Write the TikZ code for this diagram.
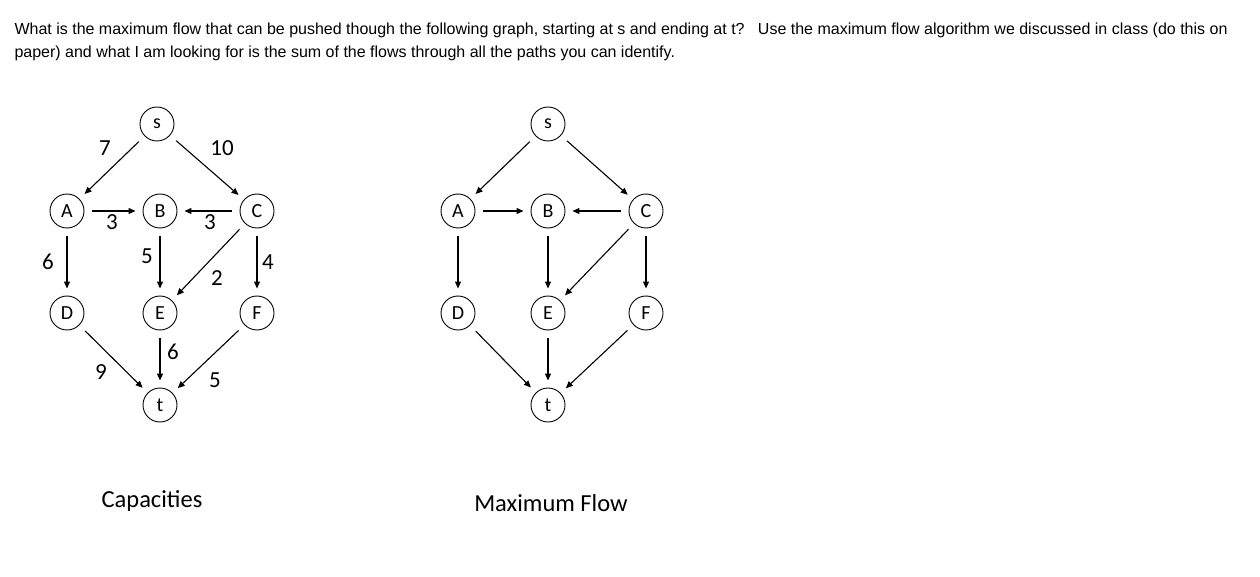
\documentclass[tikz,border=0pt]{standalone}
\usepackage{fontspec}
\setmainfont{Carlito}
\newfontfamily\hdr{Liberation Sans}
\usetikzlibrary{arrows.meta}
\begin{document}
\begin{tikzpicture}[x=1pt,y=-1pt,
  nd/.style={circle,draw,line width=0.9pt,minimum size=34pt,inner sep=0pt,font=\fontsize{20}{20}\selectfont},
  ed/.style={line width=1.1pt,-{Triangle[length=7pt,width=6pt]},shorten <=8pt,shorten >=7pt},
  lb/.style={font=\fontsize{23}{23}\selectfont},
  captxt/.style={font=\fontsize{24.5}{24.5}\selectfont}]
\useasboundingbox (0,0) rectangle (1260,577);
\node[anchor=west,font=\hdr\fontsize{16}{18}\selectfont] (h1) at (11,30) {What is the maximum flow that can be pushed though the following graph, starting at s and ending at t?\ \ \ Use the maximum flow algorithm we discussed in class (do this on};
\node[anchor=west,font=\hdr\fontsize{16}{18}\selectfont] (h2) at (11,53) {paper) and what I am looking for is the sum of the flows through all the paths you can identify.};
% left
\node[nd] (ls) at (157,124) {s};
\node[nd] (lA) at (67,211) {A};
\node[nd] (lB) at (160,211) {B};
\node[nd] (lC) at (257,211) {C};
\node[nd] (lD) at (67,313) {D};
\node[nd] (lE) at (160,313) {E};
\node[nd] (lF) at (257,313) {F};
\node[nd] (lt) at (160,405) {t};
\draw[ed] (ls) -- (lA);
\draw[ed] (ls) -- (lC);
\draw[ed] (lA) -- (lB);
\draw[ed] (lC) -- (lB);
\draw[ed] (lA) -- (lD);
\draw[ed] (lB) -- (lE);
\draw[ed] (lC) -- (lE);
\draw[ed] (lC) -- (lF);
\draw[ed] (lD) -- (lt);
\draw[ed] (lE) -- (lt);
\draw[ed] (lF) -- (lt);
\node[lb] (l1) at (105,148) {7};
\node[lb] (l2) at (222,148) {10};
\node[lb] (l3) at (112,222) {3};
\node[lb] (l4) at (210,222) {3};
\node[lb] (l5) at (48,262) {6};
\node[lb] (l6) at (147,256) {5};
\node[lb] (l7) at (217,278) {2};
\node[lb] (l8) at (268,262) {4};
\node[lb] (l9) at (101,372) {9};
\node[lb] (l10) at (173,352) {6};
\node[lb] (l11) at (215,380) {5};
\node[captxt] (c1) at (152,501) {Capacities};
% right
\node[nd] (rs) at (548,124) {s};
\node[nd] (rA) at (458,211) {A};
\node[nd] (rB) at (548,211) {B};
\node[nd] (rC) at (646,211) {C};
\node[nd] (rD) at (458,313) {D};
\node[nd] (rE) at (548,313) {E};
\node[nd] (rF) at (646,313) {F};
\node[nd] (rt) at (548,405) {t};
\draw[ed] (rs) -- (rA);
\draw[ed] (rs) -- (rC);
\draw[ed] (rA) -- (rB);
\draw[ed] (rC) -- (rB);
\draw[ed] (rA) -- (rD);
\draw[ed] (rB) -- (rE);
\draw[ed] (rC) -- (rE);
\draw[ed] (rC) -- (rF);
\draw[ed] (rD) -- (rt);
\draw[ed] (rE) -- (rt);
\draw[ed] (rF) -- (rt);
\node[captxt] (c2) at (551,503) {Maximum Flow};
\end{tikzpicture}
\end{document}
